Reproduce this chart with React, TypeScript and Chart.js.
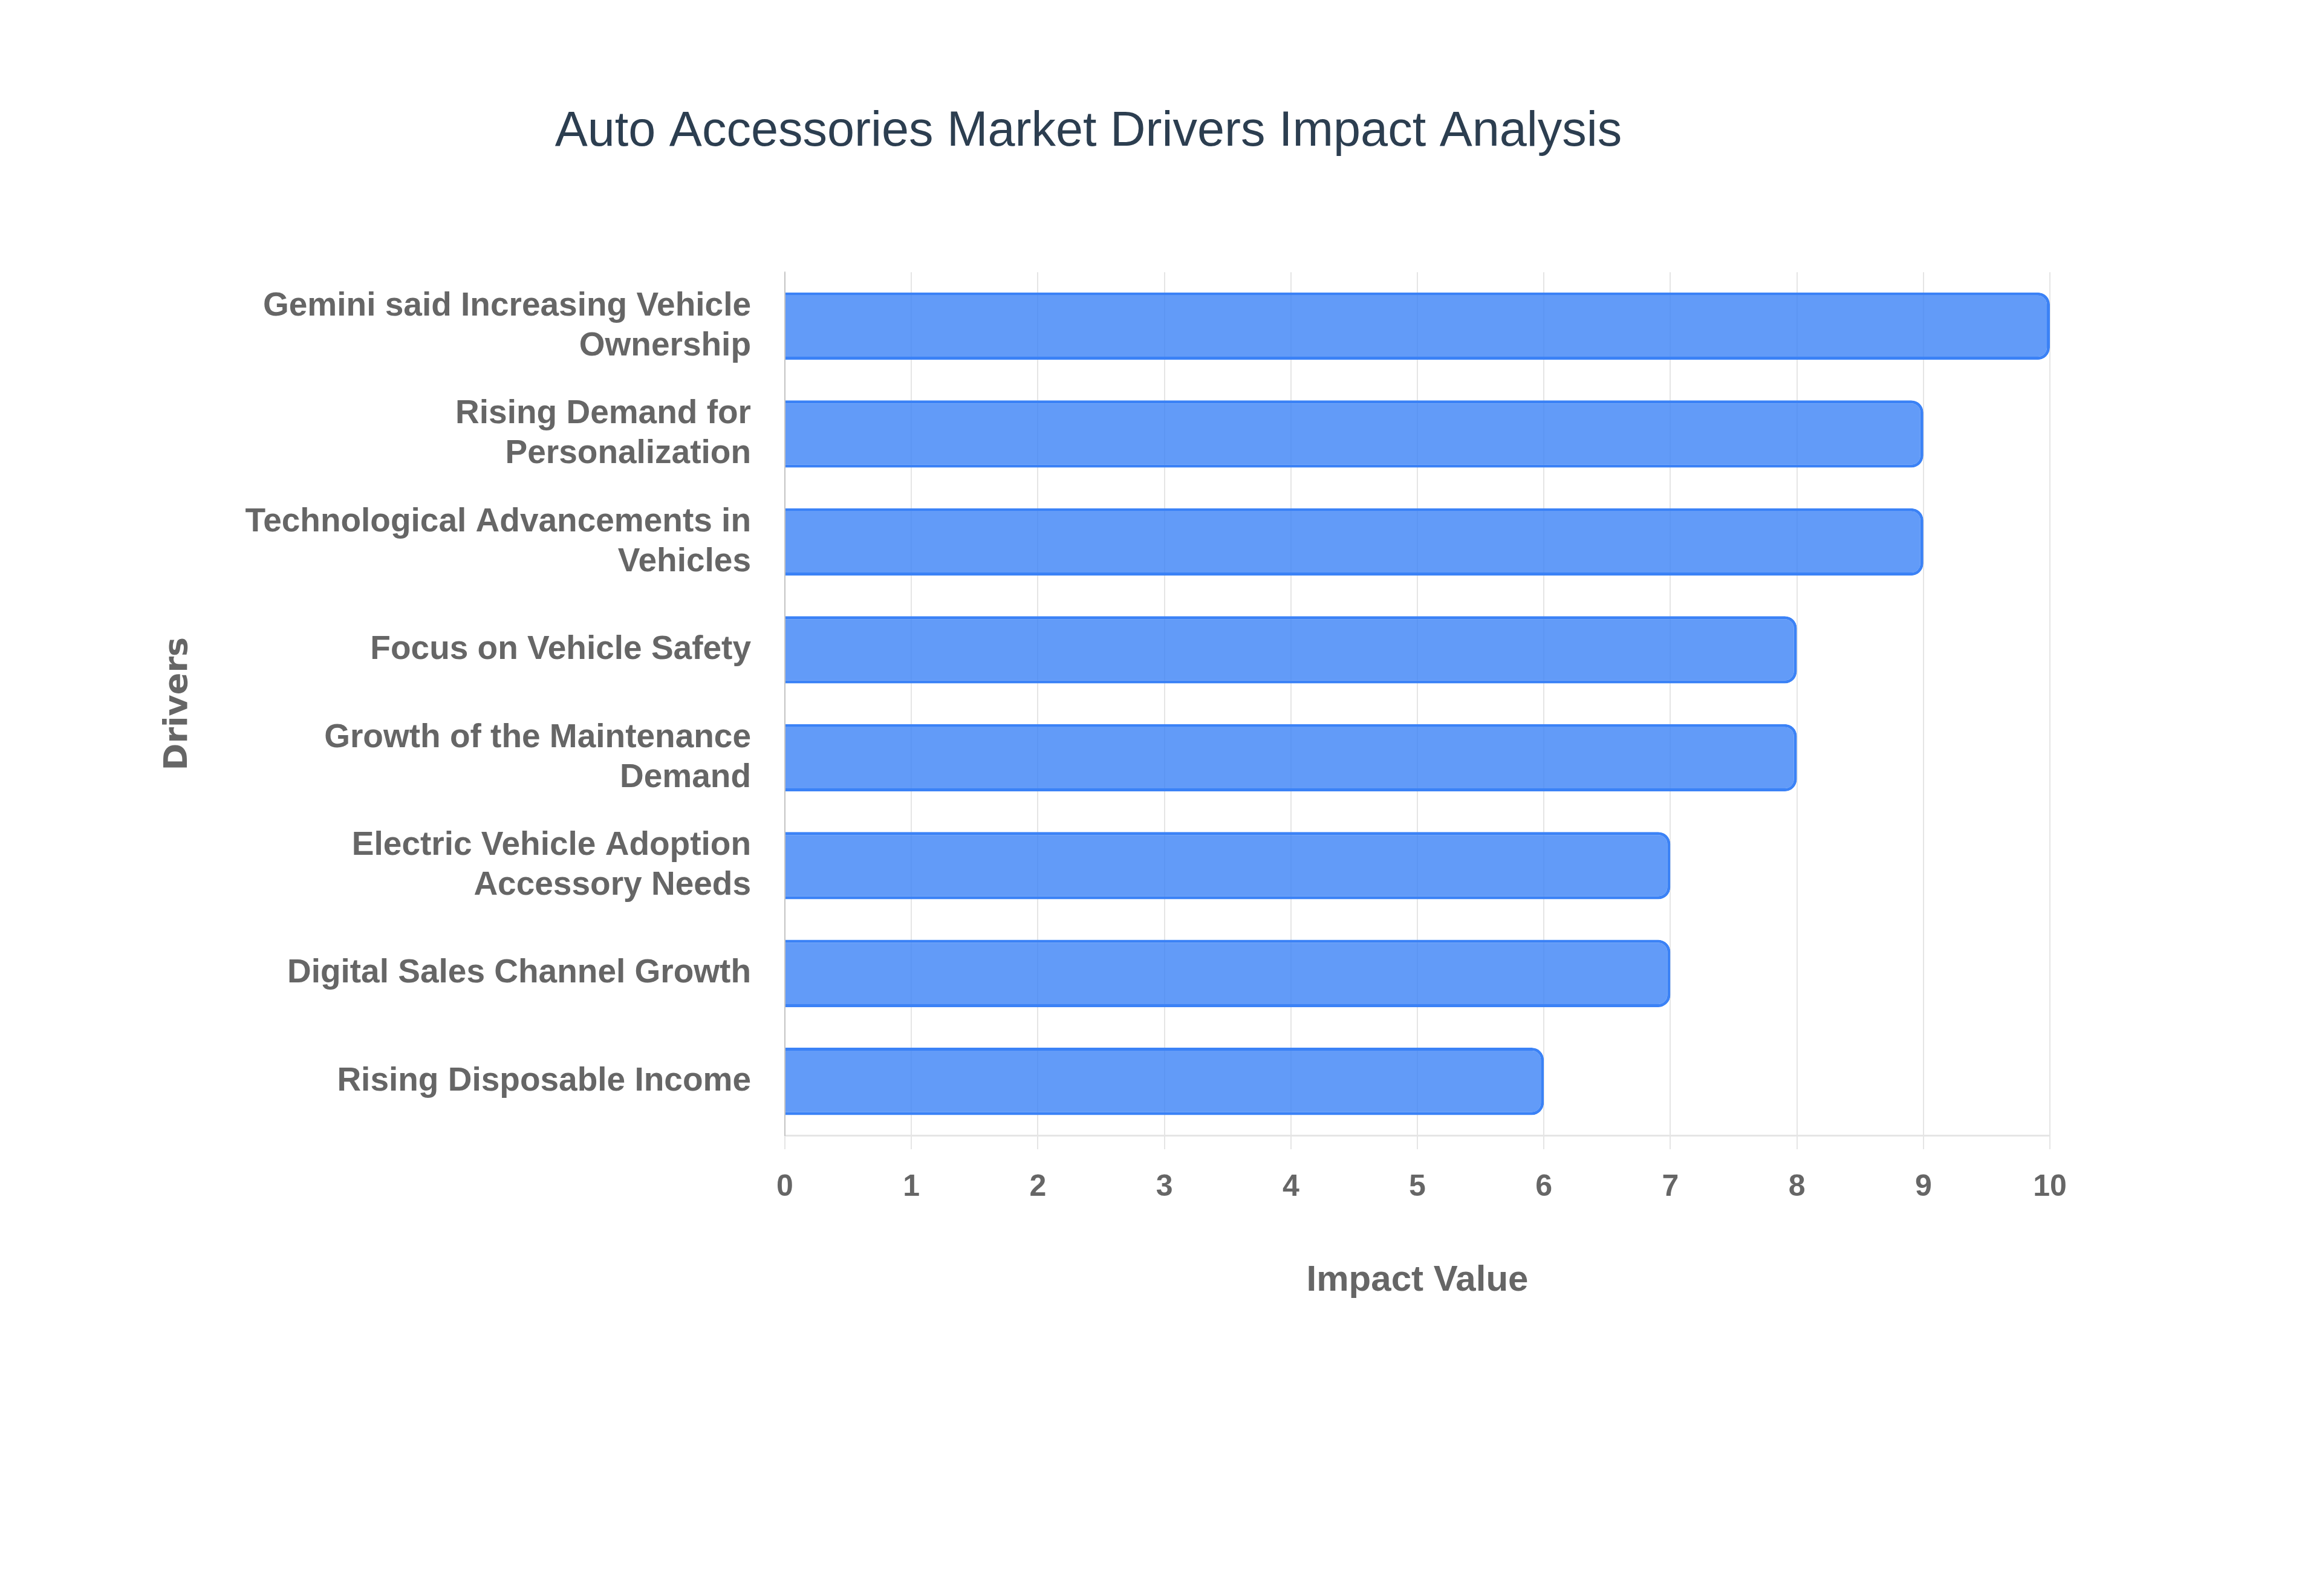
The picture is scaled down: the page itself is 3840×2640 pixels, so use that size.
import { useEffect, useRef } from "react";
import { Chart, registerables, type ChartOptions } from "chart.js";

Chart.register(...registerables);

const drivers: (string | string[])[] = [
  ["Gemini said Increasing Vehicle", "Ownership"],
  ["Rising Demand for", "Personalization"],
  ["Technological Advancements in", "Vehicles"],
  "Focus on Vehicle Safety",
  ["Growth of the Maintenance", "Demand"],
  ["Electric Vehicle Adoption", "Accessory Needs"],
  "Digital Sales Channel Growth",
  "Rising Disposable Income",
];

const impactValues = [10, 9, 9, 8, 8, 7, 7, 6];

const xTicks = [0, 1, 2, 3, 4, 5, 6, 7, 8, 9, 10];

const labelFont = "'Liberation Sans', Arial, Helvetica, sans-serif";

export default function App() {
  const canvasRef = useRef<HTMLCanvasElement | null>(null);
  const chartRef = useRef<Chart | null>(null);

  useEffect(() => {
    document.body.style.margin = "0";
    if (!canvasRef.current) return;
    if (chartRef.current) {
      chartRef.current.destroy();
    }

    const options: ChartOptions<"bar"> = {
      indexAxis: "y",
      responsive: false,
      devicePixelRatio: 1,
      animation: false,
      layout: { padding: { left: 210, right: 450, top: 0, bottom: 482 } },
      plugins: {
        legend: { display: false },
        tooltip: { enabled: false },
        title: {
          display: true,
          text: "Auto Accessories Market Drivers Impact Analysis",
          color: "#2c3e50",
          font: { family: labelFont, size: 81, weight: "normal" },
          padding: { top: 170, bottom: 183 },
        },
      },
      scales: {
        x: {
          min: 0,
          max: 10,
          afterBuildTicks: (scale) => {
            scale.ticks = xTicks.map((v) => ({ value: v }));
          },
          grid: { color: "rgba(0,0,0,0.1)", lineWidth: 2, tickLength: 23 },
          border: { display: true, color: "rgba(0,0,0,0.1)", width: 3 },
          ticks: {
            color: "#666",
            padding: 33,
            font: { family: labelFont, size: 50, weight: "bold" },
          },
          title: {
            display: true,
            text: "Impact Value",
            color: "#666",
            font: { family: labelFont, size: 60, weight: "bold" },
            padding: { top: 55, bottom: 4 },
          },
        },
        y: {
          afterFit: (scale) => {
            scale.width = 1298 - 210;
          },
          grid: { display: false, drawTicks: false },
          border: { display: true, color: "rgba(0,0,0,0.15)", width: 2 },
          ticks: {
            color: "#666",
            padding: 56,
            font: { family: labelFont, size: 55, weight: "bold" },
          },
          title: {
            display: true,
            text: "Drivers",
            color: "#666",
            font: { family: "'DejaVu Sans', Verdana, sans-serif", size: 54, weight: "bold" },
            padding: { top: 53, bottom: 4 },
          },
        },
      },
    };

    chartRef.current = new Chart(canvasRef.current, {
      type: "bar",
      data: {
        labels: drivers,
        datasets: [
          {
            label: "Impact Value",
            data: impactValues,
            backgroundColor: "rgba(59,130,246,0.8)",
            borderColor: "#3b82f6",
            borderWidth: 5,
            borderRadius: 20,
            borderSkipped: "start",
            categoryPercentage: 0.8,
            barPercentage: 0.78,
          },
        ],
      },
      options,
    });

    return () => {
      chartRef.current?.destroy();
      chartRef.current = null;
    };
  }, []);

  return (
    <div style={{ width: 3840, height: 2640, background: "#fff" }}>
      <canvas ref={canvasRef} width={3840} height={2640} style={{ display: "block", width: 3840, height: 2640 }} />
    </div>
  );
}
